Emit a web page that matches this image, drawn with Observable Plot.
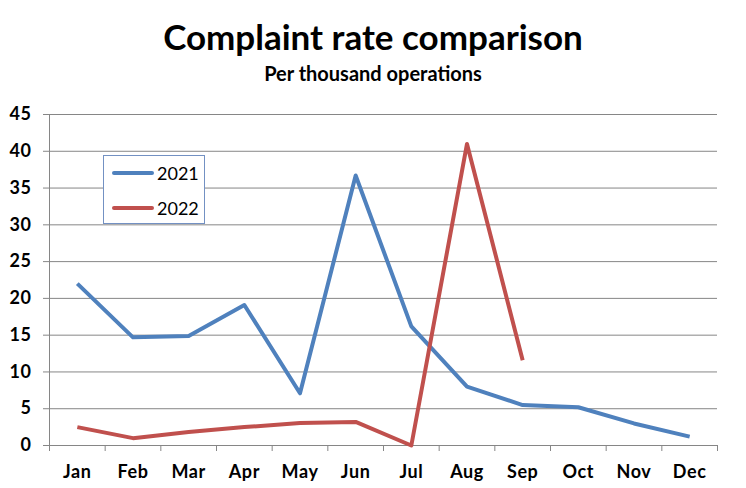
<!DOCTYPE html>
<html>
<head>
<meta charset="utf-8">
<script src="https://cdn.jsdelivr.net/npm/d3@7"></script>
<script src="https://cdn.jsdelivr.net/npm/@observablehq/plot@0.6"></script>
<style>
  html, body { margin: 0; padding: 0; background: #fff; }
  #wrap { position: relative; width: 746px; height: 488px; font-family: Lato, "Open Sans", sans-serif; }
  #title { position: absolute; left: 0; width: 746px; top: 16px; text-align: center; font-weight: bold; font-size: 35px; line-height: 40px; color: #000; }
  #subtitle { position: absolute; left: 0; width: 746px; top: 61px; text-align: center; font-weight: bold; font-size: 20px; line-height: 24px; color: #000; }
  #chart { position: absolute; left: 0; top: 100px; }
  #chart svg text { font-size: 18px !important; font-weight: bold; letter-spacing: 0.6px; }
  #legend { position: absolute; left: 103px; top: 155px; width: 102px; height: 69px; border: 1px solid #7391c3; background: #fff; box-sizing: border-box; }
  .li { position: absolute; left: 8px; height: 20px; display: flex; align-items: center; font-size: 18px; color: #000; }
  .li span.sw { display: inline-block; width: 42px; height: 4px; margin-right: 3px; border-radius: 2px; }
</style>
</head>
<body>
<div id="wrap">
  <div id="title">Complaint rate comparison</div>
  <div id="subtitle">Per thousand operations</div>
  <div id="chart"></div>
  <div id="legend"></div>
</div>
<script>
const months = ["Jan","Feb","Mar","Apr","May","Jun","Jul","Aug","Sep","Oct","Nov","Dec"];
const series = ["2021", "2022"];
const values2021 = [22, 14.7, 14.9, 19.1, 7.1, 36.7, 16.2, 8.0, 5.5, 5.2, 3.0, 1.2];
const values2022 = [2.5, 1.0, 1.85, 2.5, 3.05, 3.2, 0, 41.0, 11.6];
const yTicks = [0, 5, 10, 15, 20, 25, 30, 35, 40, 45];
const colors = ["#4f81bd", "#c0504d"];

const rows = [];
values2021.forEach((v, i) => rows.push({series: series[0], idx: i + 1, value: v}));
values2022.forEach((v, i) => rows.push({series: series[1], idx: i + 1, value: v}));

const centers = months.map((m, i) => i + 1);
const bounds = d3.range(0.5, months.length + 1, 1);

const chart = Plot.plot({
  width: 746,
  height: 388,
  marginTop: 14,
  marginBottom: 43,
  marginLeft: 49,
  marginRight: 29,
  style: {fontFamily: "Lato, 'Open Sans', sans-serif", fontSize: "18px", fontWeight: "bold", color: "#000", background: "#fff"},
  x: {type: "linear", domain: [0.5, months.length + 0.5]},
  y: {domain: [0, 45]},
  color: {domain: series, range: colors},
  marks: [
    Plot.ruleY(yTicks, {stroke: "#868686", strokeWidth: 1, strokeOpacity: 1}),
    Plot.ruleX([0.5], {stroke: "#868686", strokeWidth: 1}),
    Plot.axisY({ticks: yTicks, tickSize: 6, tickPadding: 12, stroke: "#868686", label: null, fontSize: 18, fontWeight: "bold"}),
    Plot.axisX({ticks: bounds, tickSize: 6, tickFormat: () => "", stroke: "#868686", label: null}),
    Plot.axisX({ticks: centers, tickSize: 0, tickPadding: 20, tickFormat: i => months[i - 1], label: null, fontSize: 18, fontWeight: "bold"}),
    Plot.line(rows, {x: "idx", y: "value", z: "series", stroke: "series", strokeWidth: 4, strokeLinejoin: "round", strokeLinecap: "butt"})
  ]
});
document.getElementById("chart").appendChild(chart);

const legend = document.getElementById("legend");
series.forEach((s, i) => {
  const d = document.createElement("div");
  d.className = "li";
  d.style.top = (7 + i * 35) + "px";
  d.innerHTML = `<span class="sw" style="background:${colors[i]}"></span>${s}`;
  legend.appendChild(d);
});
</script>
</body>
</html>
